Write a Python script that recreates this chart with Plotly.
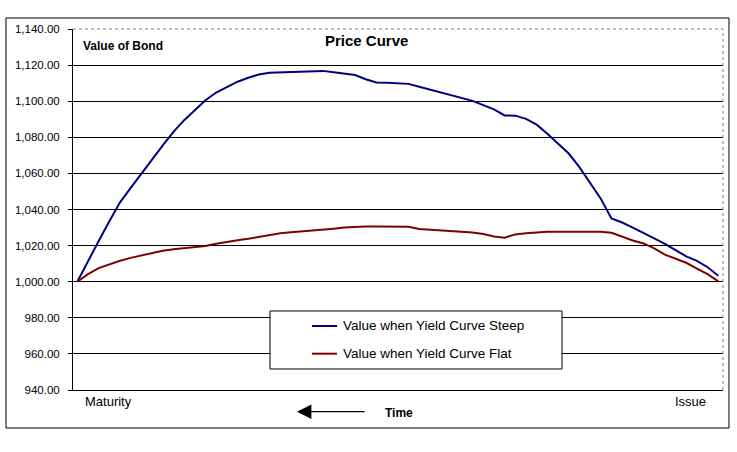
import plotly.graph_objects as go

# semiannual periods, maturity (left) back to issue (right)
periods = list(range(61))

steep_values = [
    1000.0, 1011.5, 1022.5, 1033.5, 1044.0, 1052.0, 1060.0, 1067.5, 1075.5, 1083.0,
    1089.5, 1095.0, 1100.5, 1104.8, 1108.0, 1110.8, 1113.0, 1114.8, 1115.8, 1116.0,
    1116.0, 1116.2, 1116.8, 1116.8, 1116.0, 1115.4, 1114.5, 1112.2, 1110.4, 1110.2,
    1110.0, 1109.6, 1108.0, 1106.4, 1105.2, 1103.5, 1102.0, 1100.2, 1097.8, 1095.5,
    1092.1, 1092.0, 1090.2, 1087.0, 1082.0, 1076.5, 1071.0, 1063.5, 1055.0, 1046.0,
    1035.0, 1032.8, 1030.0, 1027.2, 1024.0, 1021.0, 1017.5, 1014.0, 1011.5, 1008.0,
    1003.3,
]

flat_values = [
    1000.0, 1004.2, 1007.5, 1009.6, 1011.6, 1013.2, 1014.6, 1016.0, 1017.2, 1018.0,
    1018.5, 1019.2, 1019.8, 1021.0, 1022.2, 1023.0, 1023.8, 1024.8, 1026.0, 1026.8,
    1027.4, 1027.8, 1028.3, 1028.8, 1029.4, 1030.0, 1030.5, 1030.6, 1030.6, 1030.6,
    1030.6, 1030.5, 1029.2, 1028.8, 1028.8, 1028.3, 1027.6, 1027.2, 1026.4, 1025.0,
    1024.4, 1026.2, 1026.8, 1027.4, 1027.7, 1027.7, 1027.7, 1027.7, 1027.7, 1027.7,
    1027.1, 1025.0, 1022.8, 1021.2, 1018.5, 1015.0, 1012.8, 1010.5, 1007.3, 1004.2,
    1000.2,
]

y_ticks = [940, 960, 980, 1000, 1020, 1040, 1060, 1080, 1100, 1120, 1140]
series_names = ['Value when Yield Curve Steep', 'Value when Yield Curve Flat']
series_colors = ['#000080', '#800000']

FONT = 'Arial, Liberation Sans, sans-serif'

fig = go.Figure()
for vals, name, color in zip([steep_values, flat_values], series_names, series_colors):
    fig.add_trace(go.Scatter(
        x=periods, y=vals, mode='lines', name=name,
        line=dict(color=color, width=2), showlegend=False
    ))

shapes = [
    # outer chart border
    dict(type='rect', xref='paper', yref='paper', x0=-0.1031, x1=1.0092, y0=-0.1053, y1=1.0305,
         line=dict(color='black', width=1), layer='below'),
    # top and right plot border, dotted grey
    dict(type='line', xref='paper', yref='paper', x0=0, x1=1, y0=1, y1=1,
         line=dict(color='white', width=2), layer='above'),
    dict(type='line', xref='paper', yref='paper', x0=0, x1=1, y0=1, y1=1,
         line=dict(color='#808080', width=1, dash='dot'), layer='above'),
    dict(type='line', xref='paper', yref='paper', x0=1, x1=1, y0=0, y1=1,
         line=dict(color='#808080', width=1, dash='dot'), layer='above'),
    # legend box
    dict(type='rect', xref='paper', yref='paper', x0=0.3031, x1=0.7523, y0=0.0582, y1=0.2188,
         line=dict(color='black', width=1), fillcolor='white', layer='above'),
]
legend_rows = [0.1773, 0.1006]
annotations = []
for name, color, yy in zip(series_names, series_colors, legend_rows):
    shapes.append(dict(type='line', xref='paper', yref='paper', x0=0.3677, x1=0.4062, y0=yy, y1=yy,
                       line=dict(color=color, width=2), layer='above'))
    annotations.append(dict(xref='paper', yref='paper', x=0.4123, y=yy, text=name, showarrow=False,
                            xanchor='left', yanchor='middle', font=dict(size=13.5, color='black')))

annotations += [
    dict(xref='paper', yref='paper', x=0.0123, y=0.9518, text='<b>Value of Bond</b>', showarrow=False,
         xanchor='left', yanchor='middle', font=dict(size=12, color='black')),
    dict(xref='paper', yref='paper', x=0.4523, y=0.9668, text='<b>Price Curve</b>', showarrow=False,
         xanchor='center', yanchor='middle', font=dict(size=15, color='black')),
    dict(xref='paper', yref='paper', x=0.0154, y=-0.0305, text='Maturity', showarrow=False,
         xanchor='left', yanchor='middle', font=dict(size=13, color='black')),
    dict(xref='paper', yref='paper', x=0.9231, y=-0.0305, text='Issue', showarrow=False,
         xanchor='left', yanchor='middle', font=dict(size=13, color='black')),
    dict(xref='paper', yref='paper', x=0.4769, y=-0.0637, text='<b>Time</b>', showarrow=False,
         xanchor='left', yanchor='middle', font=dict(size=12, color='black')),
    dict(xref='paper', yref='paper', x=0.3446, y=-0.0601, text='', showarrow=True,
         axref='pixel', ayref='pixel', ax=69, ay=0, arrowhead=2, arrowsize=2.4,
         arrowwidth=1.2, arrowcolor='black'),
]

fig.update_layout(
    width=737, height=452,
    margin=dict(l=73, r=14, t=29, b=62),
    paper_bgcolor='white', plot_bgcolor='white',
    font=dict(family=FONT, color='black'),
    shapes=shapes, annotations=annotations,
    xaxis=dict(range=[-0.4025, 60.44], showgrid=False, zeroline=False, showticklabels=False,
               showline=True, linecolor='black', linewidth=1, ticks=''),
    yaxis=dict(range=[940, 1140], tickvals=y_ticks, tickformat=',.2f', showgrid=True,
               gridcolor='black', gridwidth=1, zeroline=False, showline=True, linecolor='black',
               linewidth=1, ticks='outside', ticklen=4, tickcolor='black', ticklabelstandoff=6,
               tickfont=dict(size=11.5, color='black')),
)

# page body margin would push the chart 8px off the window origin
fig.write_html('out.html', config={'displayModeBar': False},
               post_script="document.body.style.margin='0';")
